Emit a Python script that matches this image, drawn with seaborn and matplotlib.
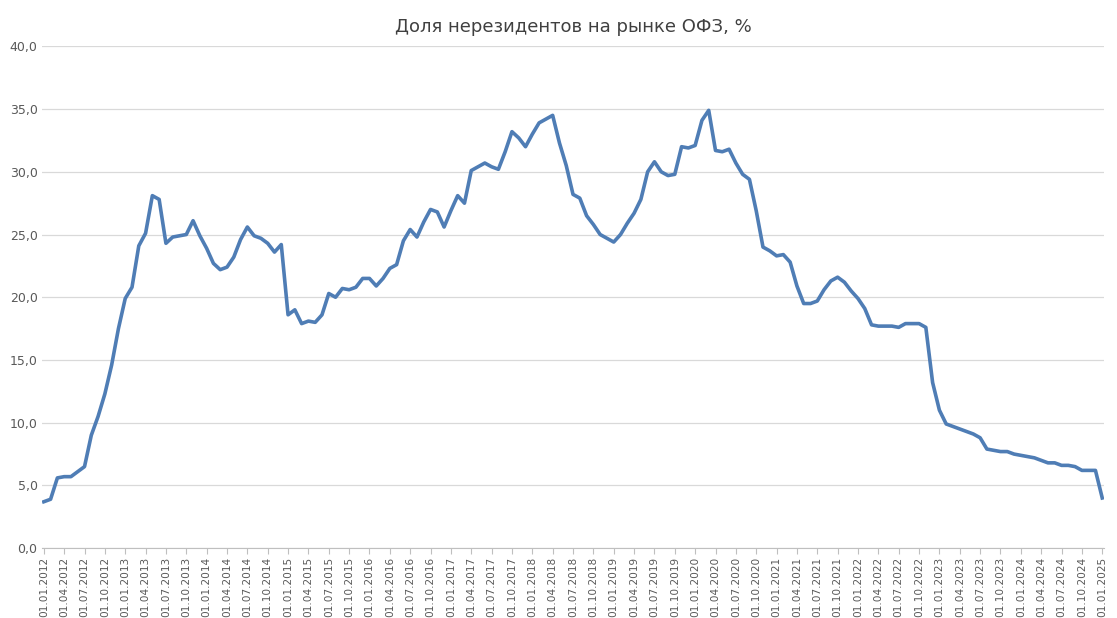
import matplotlib
matplotlib.use("Agg")
import matplotlib.pyplot as plt
import seaborn as sns
import pandas as pd
import numpy as np

years = list(range(2012, 2025))
values = [
    3.7, 3.9, 5.6, 5.7, 5.7, 6.1, 6.5, 9.0, 10.5, 12.3, 14.6, 17.5,
    19.9, 20.8, 24.1, 25.1, 28.1, 27.8, 24.3, 24.8, 24.9, 25.0, 26.1, 24.9,
    23.9, 22.7, 22.2, 22.4, 23.2, 24.6, 25.6, 24.9, 24.7, 24.3, 23.6, 24.2,
    18.6, 19.0, 17.9, 18.1, 18.0, 18.6, 20.3, 20.0, 20.7, 20.6, 20.8, 21.5,
    21.5, 20.9, 21.5, 22.3, 22.6, 24.5, 25.4, 24.8, 26.0, 27.0, 26.8, 25.6,
    26.9, 28.1, 27.5, 30.1, 30.4, 30.7, 30.4, 30.2, 31.6, 33.2, 32.7, 32.0,
    33.0, 33.9, 34.2, 34.5, 32.3, 30.5, 28.2, 27.9, 26.5, 25.8, 25.0, 24.7,
    24.4, 25.0, 25.9, 26.7, 27.8, 30.0, 30.8, 30.0, 29.7, 29.8, 32.0, 31.9,
    32.1, 34.1, 34.9, 31.7, 31.6, 31.8, 30.7, 29.8, 29.4, 26.9, 24.0, 23.7,
    23.3, 23.4, 22.8, 20.9, 19.5, 19.5, 19.7, 20.6, 21.3, 21.6, 21.2, 20.5,
    19.9, 19.1, 17.8, 17.7, 17.7, 17.7, 17.6, 17.9, 17.9, 17.9, 17.6, 13.2,
    11.0, 9.9, 9.7, 9.5, 9.3, 9.1, 8.8, 7.9, 7.8, 7.7, 7.7, 7.5,
    7.4, 7.3, 7.2, 7.0, 6.8, 6.8, 6.6, 6.6, 6.5, 6.2, 6.2, 6.2,
    4.0,
]
dates = [f"01.{m:02d}.{y}" for y in years for m in range(1, 13)] + ["01.01.2025"]
df = pd.DataFrame({"idx": np.arange(len(values)), "val": values})

fig, ax = plt.subplots(figsize=(11.17, 6.18), dpi=100)
fig.subplots_adjust(left=0.038, right=0.988, top=0.925, bottom=0.113)
sns.lineplot(data=df, x="idx", y="val", ax=ax, color="#4F7DB5", linewidth=2.6)
ax.set_ylim(0, 40)
ax.set_xlim(-0.2, len(values) - 0.8)
ax.set_yticks(np.arange(0, 41, 5))
ax.set_yticklabels([f"{v:.1f}".replace(".", ",") for v in np.arange(0, 41, 5)], fontsize=9, color="#595959")
tick_idx = list(range(0, len(values), 3))
ax.set_xticks(tick_idx)
ax.set_xticklabels([dates[i] for i in tick_idx], rotation=90, fontsize=7.6, color="#595959")
ax.grid(axis="y", color="#D9D9D9", linewidth=0.9)
ax.set_axisbelow(True)
for s in ["top", "right", "left"]:
    ax.spines[s].set_visible(False)
ax.spines["bottom"].set_color("#BFBFBF")
ax.tick_params(axis="y", length=0)
ax.tick_params(axis="x", length=4, color="#BFBFBF", pad=2)
ax.set_xlabel("")
ax.set_ylabel("")
ax.set_title("Доля нерезидентов на рынке ОФЗ, %", fontsize=13, color="#404040", pad=10)
fig.savefig("out.png", dpi=100)
